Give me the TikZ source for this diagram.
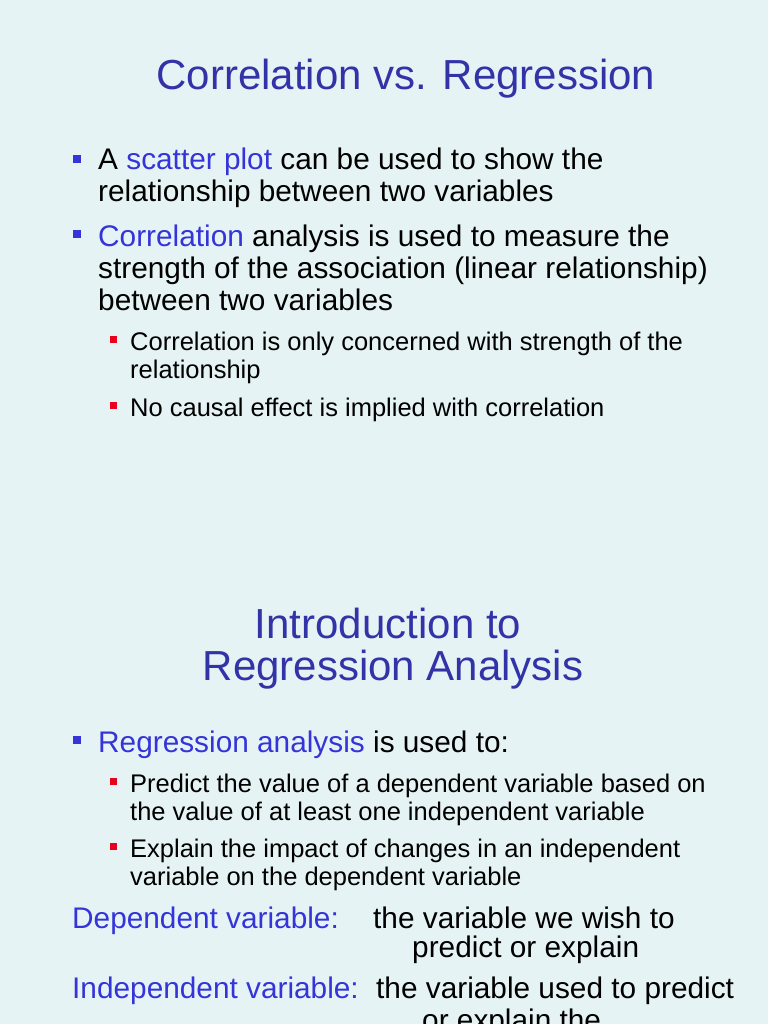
\documentclass[tikz,border=0pt]{standalone}
\usepackage{fontspec}
\setmainfont{Liberation Sans}
\definecolor{bg}{HTML}{E6F3F5}
\definecolor{ttl}{HTML}{3333A8}
\definecolor{hl}{HTML}{3434D8}
\definecolor{bred}{HTML}{E8001C}
\begin{document}
\begin{tikzpicture}[x=1pt,y=-1pt,
  t/.style={anchor=base west,inner sep=0pt,font=\fontsize{29.8}{34}\selectfont},
  s/.style={anchor=base west,inner sep=0pt,font=\fontsize{25.5}{30}\selectfont},
  ti/.style={anchor=base,inner sep=0pt,text=ttl,font=\fontsize{42}{46}\selectfont},
  bb/.style={fill=hl,minimum size=8pt,inner sep=0pt},
  rb/.style={fill=bred,minimum size=7pt,inner sep=0pt}]
\fill[bg] (0,0) rectangle (768,1024);
\useasboundingbox (0,0) rectangle (768,1024);
\node[ti] (t1) at (406,90) {Correlation vs. Regression};
\node[bb] (b1) at (77,159) {};
\node[t] (l1) at (98,170) {A \textcolor{hl}{scatter plot} can be used to show the};
\node[t] (l2) at (98,202) {relationship between two variables};
\node[bb] (b2) at (77,234) {};
\node[t] (l3) at (98,246) {\textcolor{hl}{Correlation} analysis is used to measure the};
\node[t] (l4) at (98,278) {strength of the association (linear relationship)};
\node[t] (l5) at (98,310) {between two variables};
\node[rb] (r1) at (113,339) {};
\node[s] (s1) at (130,350) {Correlation is only concerned with strength of the};
\node[s] (s2) at (130,378) {relationship};
\node[rb] (r2) at (113,405) {};
\node[s] (s3) at (130,416) {No causal effect is implied with correlation};
\node[ti] (t2) at (388,638) {Introduction to};
\node[ti] (t3) at (393,680) {Regression Analysis};
\node[bb] (b3) at (77,740) {};
\node[t] (l6) at (98,752) {\textcolor{hl}{Regression analysis} is used to:};
\node[rb] (r3) at (113,781) {};
\node[s] (s4) at (130,792) {Predict the value of a dependent variable based on};
\node[s] (s5) at (130,820) {the value of at least one independent variable};
\node[rb] (r4) at (113,846) {};
\node[s] (s6) at (130,857) {Explain the impact of changes in an independent};
\node[s] (s7) at (130,885) {variable on the dependent variable};
\node[t,text=hl] (d1) at (72,928) {Dependent variable:};
\node[t] (d2) at (373,928) {the variable we wish to};
\node[t] (d3) at (412,957) {predict or explain};
\node[t,text=hl] (i1) at (72,998) {Independent variable:};
\node[t] (i2) at (376,998) {the variable used to predict};
\node[t] (i3) at (422,1030) {or explain the};
\end{tikzpicture}
\end{document}
